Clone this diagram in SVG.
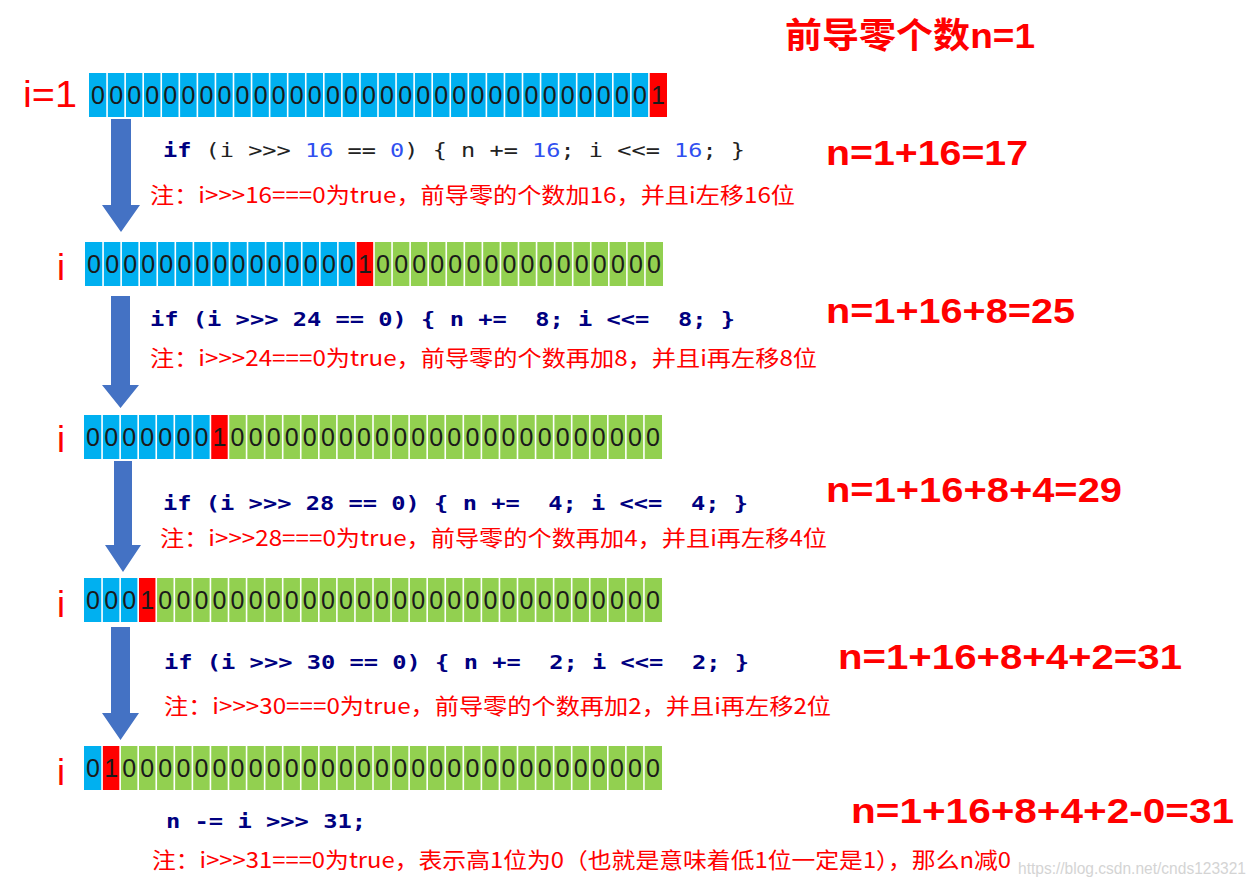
<svg xmlns="http://www.w3.org/2000/svg" xmlns:xlink="http://www.w3.org/1999/xlink" width="1257" height="889" viewBox="0 0 1257 889">
<style>
.blue{fill:#00B0F0}.green{fill:#92D050}.red{fill:#FF0000}
.sep{stroke:#FFFFFF;stroke-width:1.6;fill:none}
.dig{font-family:"Liberation Sans",Arial,sans-serif;font-size:25px;fill:#1a1a1a;text-anchor:middle}
.lbl{font-family:"Liberation Sans",Arial,sans-serif;font-size:36px;fill:#FF0000}
.code{font-family:"DejaVu Sans Mono","Liberation Mono",monospace;font-size:20px;fill:#000080;font-weight:bold}
.code1{font-family:"DejaVu Sans Mono","Liberation Mono",monospace;font-size:20px;fill:#222222}
.num{fill:#3050F0}
.note{font-family:"Noto Sans CJK SC","Microsoft YaHei",sans-serif;font-size:22px;fill:#FF0000}
.big{font-family:"Liberation Sans","Noto Sans CJK SC",Arial,sans-serif;font-size:35px;font-weight:bold;fill:#FF0000}
.arrow{fill:#4472C4}
.wm{font-family:"Liberation Sans",Arial,sans-serif;font-size:16px;fill:#D4D4D4}
</style>
<defs>
<path id="seps" class="sep" d="M18.06 0V44M36.13 0V44M54.19 0V44M72.25 0V44M90.31 0V44M108.38 0V44M126.44 0V44M144.5 0V44M162.56 0V44M180.63 0V44M198.69 0V44M216.75 0V44M234.81 0V44M252.88 0V44M270.94 0V44M289 0V44M307.06 0V44M325.13 0V44M343.19 0V44M361.25 0V44M379.31 0V44M397.38 0V44M415.44 0V44M433.5 0V44M451.56 0V44M469.63 0V44M487.69 0V44M505.75 0V44M523.81 0V44M541.88 0V44M559.94 0V44"/>
</defs>

<g id="title">
<text class="big" x="785" y="48" font-size="34" textLength="250" lengthAdjust="spacingAndGlyphs">前导零个数n=1</text>
</g>

<g id="row1" transform="translate(89,73)">
<rect class="blue" x="0" y="0" width="559.94" height="44"/>
<rect class="red" x="559.94" y="0" width="18.06" height="44"/>
<use xlink:href="#seps"/>
<text class="dig" y="31" x="9.03 27.09 45.16 63.22 81.28 99.34 117.41 135.47 153.53 171.59 189.66 207.72 225.78 243.84 261.91 279.97 298.03 316.09 334.16 352.22 370.28 388.34 406.41 424.47 442.53 460.59 478.66 496.72 514.78 532.84 550.91 568.97">00000000000000000000000000000001</text>
</g>
<g id="label1"><text class="lbl" x="23" y="107" textLength="54" lengthAdjust="spacingAndGlyphs">i=1</text></g>

<g id="row2" transform="translate(85,242)">
<rect class="blue" x="0" y="0" width="270.94" height="44"/>
<rect class="red" x="270.94" y="0" width="18.06" height="44"/>
<rect class="green" x="289" y="0" width="289" height="44"/>
<use xlink:href="#seps"/>
<text class="dig" y="31" x="9.03 27.09 45.16 63.22 81.28 99.34 117.41 135.47 153.53 171.59 189.66 207.72 225.78 243.84 261.91 279.97 298.03 316.09 334.16 352.22 370.28 388.34 406.41 424.47 442.53 460.59 478.66 496.72 514.78 532.84 550.91 568.97">00000000000000010000000000000000</text>
</g>
<g id="label2"><text class="lbl" x="57" y="280">i</text></g>

<g id="row3" transform="translate(84,415)">
<rect class="blue" x="0" y="0" width="126.44" height="44"/>
<rect class="red" x="126.44" y="0" width="18.06" height="44"/>
<rect class="green" x="144.5" y="0" width="433.5" height="44"/>
<use xlink:href="#seps"/>
<text class="dig" y="31" x="9.03 27.09 45.16 63.22 81.28 99.34 117.41 135.47 153.53 171.59 189.66 207.72 225.78 243.84 261.91 279.97 298.03 316.09 334.16 352.22 370.28 388.34 406.41 424.47 442.53 460.59 478.66 496.72 514.78 532.84 550.91 568.97">00000001000000000000000000000000</text>
</g>
<g id="label3"><text class="lbl" x="57" y="452">i</text></g>

<g id="row4" transform="translate(84,578)">
<rect class="blue" x="0" y="0" width="54.19" height="44"/>
<rect class="red" x="54.19" y="0" width="18.06" height="44"/>
<rect class="green" x="72.25" y="0" width="505.75" height="44"/>
<use xlink:href="#seps"/>
<text class="dig" y="31" x="9.03 27.09 45.16 63.22 81.28 99.34 117.41 135.47 153.53 171.59 189.66 207.72 225.78 243.84 261.91 279.97 298.03 316.09 334.16 352.22 370.28 388.34 406.41 424.47 442.53 460.59 478.66 496.72 514.78 532.84 550.91 568.97">00010000000000000000000000000000</text>
</g>
<g id="label4"><text class="lbl" x="57" y="617">i</text></g>

<g id="row5" transform="translate(84,746)">
<rect class="blue" x="0" y="0" width="18.06" height="44"/>
<rect class="red" x="18.06" y="0" width="18.07" height="44"/>
<rect class="green" x="36.13" y="0" width="541.87" height="44"/>
<use xlink:href="#seps"/>
<text class="dig" y="31" x="9.03 27.09 45.16 63.22 81.28 99.34 117.41 135.47 153.53 171.59 189.66 207.72 225.78 243.84 261.91 279.97 298.03 316.09 334.16 352.22 370.28 388.34 406.41 424.47 442.53 460.59 478.66 496.72 514.78 532.84 550.91 568.97">01000000000000000000000000000000</text>
</g>
<g id="label5"><text class="lbl" x="57" y="785">i</text></g>

<g id="connectors">
<polygon class="arrow" points="111,119 131,119 131,205 140,205 121,232 102,205 111,205"/>
<polygon class="arrow" points="111,296 130,296 130,385 139,385 120.5,408 102,385 111,385"/>
<polygon class="arrow" points="114,461 132,461 132,545 141,545 123,572 105,545 114,545"/>
<polygon class="arrow" points="111,627 130,627 130,713 139,713 120.5,740 102,713 111,713"/>
</g>

<g id="step1">
<text class="code1" x="163" y="157" textLength="582" lengthAdjust="spacingAndGlyphs"><tspan font-weight="bold" fill="#000080">if</tspan> (i &gt;&gt;&gt; <tspan class="num">16</tspan> == <tspan class="num">0</tspan>) { n += <tspan class="num">16</tspan>; i &lt;&lt;= <tspan class="num">16</tspan>; }</text>
<text class="note" x="150" y="203" textLength="645" lengthAdjust="spacingAndGlyphs">注：i&gt;&gt;&gt;16===0为true，前导零的个数加16，并且i左移16位</text>
<text class="big" x="826" y="165" textLength="202" lengthAdjust="spacingAndGlyphs">n=1+16=17</text>
</g>

<g id="step2">
<text class="code" x="150" y="326" textLength="585" lengthAdjust="spacingAndGlyphs" xml:space="preserve">if (i &gt;&gt;&gt; 24 == 0) { n +=  8; i &lt;&lt;=  8; }</text>
<text class="note" x="150" y="366" textLength="667" lengthAdjust="spacingAndGlyphs">注：i&gt;&gt;&gt;24===0为true，前导零的个数再加8，并且i再左移8位</text>
<text class="big" x="826" y="323" textLength="249" lengthAdjust="spacingAndGlyphs">n=1+16+8=25</text>
</g>

<g id="step3">
<text class="code" x="163" y="510" textLength="585" lengthAdjust="spacingAndGlyphs" xml:space="preserve">if (i &gt;&gt;&gt; 28 == 0) { n +=  4; i &lt;&lt;=  4; }</text>
<text class="note" x="160" y="546" textLength="667" lengthAdjust="spacingAndGlyphs">注：i&gt;&gt;&gt;28===0为true，前导零的个数再加4，并且i再左移4位</text>
<text class="big" x="826" y="502" textLength="296" lengthAdjust="spacingAndGlyphs">n=1+16+8+4=29</text>
</g>

<g id="step4">
<text class="code" x="164" y="669" textLength="585" lengthAdjust="spacingAndGlyphs" xml:space="preserve">if (i &gt;&gt;&gt; 30 == 0) { n +=  2; i &lt;&lt;=  2; }</text>
<text class="note" x="164" y="714" textLength="667" lengthAdjust="spacingAndGlyphs">注：i&gt;&gt;&gt;30===0为true，前导零的个数再加2，并且i再左移2位</text>
<text class="big" x="838" y="669" textLength="344" lengthAdjust="spacingAndGlyphs">n=1+16+8+4+2=31</text>
</g>

<g id="step5">
<text class="code" x="166" y="828" textLength="200" lengthAdjust="spacingAndGlyphs">n -= i &gt;&gt;&gt; 31;</text>
<text class="note" x="152" y="868" textLength="859" lengthAdjust="spacingAndGlyphs">注：i&gt;&gt;&gt;31===0为true，表示高1位为0（也就是意味着低1位一定是1），那么n减0</text>
<text class="big" x="851" y="823" textLength="383" lengthAdjust="spacingAndGlyphs">n=1+16+8+4+2-0=31</text>
</g>

<g id="watermark">
<text class="wm" x="1018" y="874" textLength="228" lengthAdjust="spacingAndGlyphs">https://blog.csdn.net/cnds123321</text>
</g>
</svg>
